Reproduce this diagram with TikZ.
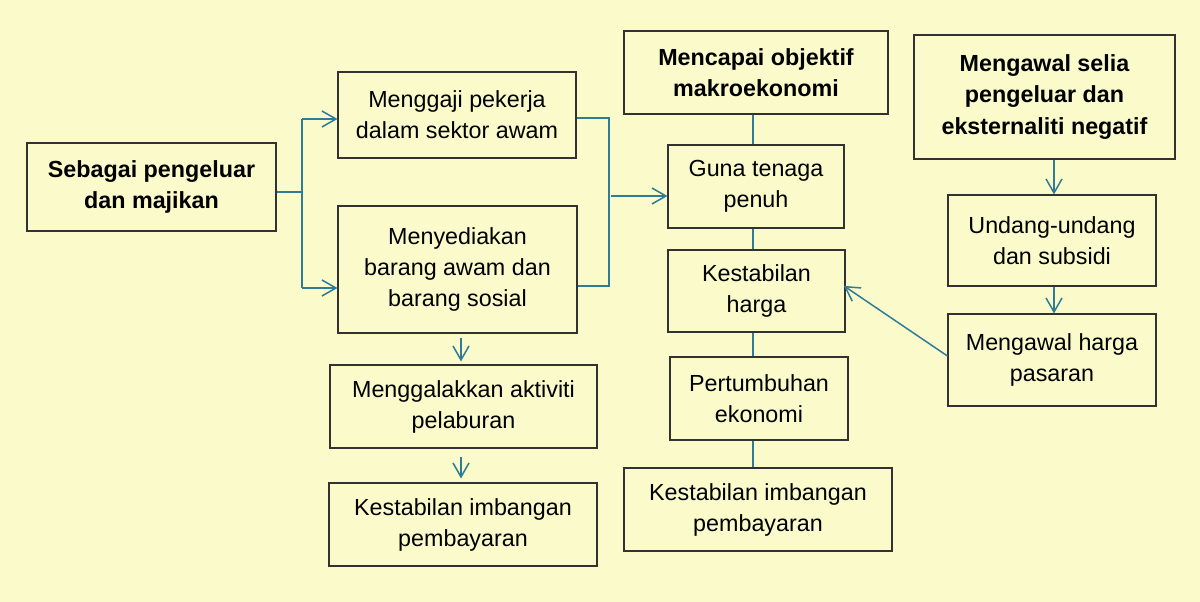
\documentclass[tikz,border=0pt]{standalone}
\usepackage{fontspec}
\setmainfont{Liberation Sans}
\usetikzlibrary{arrows.meta}
\definecolor{bgc}{RGB}{250,250,202}
\definecolor{linec}{RGB}{47,124,153}
\definecolor{boxc}{RGB}{50,50,50}
\tikzset{
  box/.style={draw=boxc, line width=1.1pt, fill=bgc, align=center, inner sep=0pt,
    font=\fontsize{23.3}{31}\selectfont},
  boldbox/.style={box, font=\fontsize{23.3}{31.5}\selectfont\bfseries},
  conn/.style={draw=linec, line width=1.5pt},
  arr/.style={conn, -{Straight Barb[length=14pt,width=16pt,line width=1.5pt]}}
}
\begin{document}
\begin{tikzpicture}[x=1pt,y=-1pt]
\fill[bgc] (0,0) rectangle (1200,602);
\useasboundingbox (0,0) rectangle (1200,602);

% left column
\node[boldbox, minimum width=249pt, minimum height=88pt] (seb) at (151.5,187) {Sebagai pengeluar\\dan majikan};
\node[box, minimum width=238pt, minimum height=86pt] (meng) at (457,115) {Menggaji pekerja\\dalam sektor awam};
\node[box, minimum width=239pt, minimum height=127pt] (meny) at (457.5,269.5) {Menyediakan\\barang awam dan\\barang sosial};
\node[box, minimum width=267pt, minimum height=83pt] (gal) at (463.5,406.5) {Menggalakkan aktiviti\\pelaburan};
\node[box, minimum width=268pt, minimum height=83pt] (kbl) at (463,524.5) {Kestabilan imbangan\\pembayaran};

% centre column
\node[boldbox, minimum width=264pt, minimum height=83pt] (capai) at (756,72.5) {Mencapai objektif\\makroekonomi};
\node[box, minimum width=176pt, minimum height=83pt] (guna) at (756,186.5) {Guna tenaga\\penuh};
\node[box, minimum width=177pt, minimum height=82pt] (harga) at (756.5,291) {Kestabilan\\harga};
\node[box, minimum width=178pt, minimum height=83pt] (tumbuh) at (759,398.5) {Pertumbuhan\\ekonomi};
\node[box, minimum width=268pt, minimum height=83pt] (kbc) at (758,509.5) {Kestabilan imbangan\\pembayaran};

% right column
\node[boldbox, minimum width=261pt, minimum height=124pt] (selia) at (1044.5,97) {Mengawal selia\\pengeluar dan\\eksternaliti negatif};
\node[box, minimum width=208pt, minimum height=91pt] (undang) at (1052,240.5) {Undang-undang\\dan subsidi};
\node[box, minimum width=208pt, minimum height=92pt] (pasar) at (1052,360) {Mengawal harga\\pasaran};

% coordinates
\coordinate (bm) at (302,192);
\coordinate (b1) at (302,119);
\coordinate (b2) at (302,288);
\coordinate (r1) at (609,118);
\coordinate (r2) at (609,286);
\coordinate (rm) at (611,196);
\coordinate (vx) at (753,0);
\coordinate (ax) at (461,0);
\coordinate (rx) at (1054,0);
\coordinate (py) at (0,356);
\coordinate (hy) at (0,287);

% left connectors
\draw[conn] (seb.east |- bm) -- (bm);
\draw[conn] (b1) -- (b2);
\draw[arr] (b1) -- (b1 -| meng.west);
\draw[arr] (b2) -- (b2 -| meny.west);
\draw[conn] (r1 -| meng.east) -- (r1) -- (r2) -- (r2 -| meny.east);
\draw[arr] (rm) -- (rm -| guna.west);
\draw[arr, shorten <=4pt, shorten >=3pt] (meny.south -| ax) -- (gal.north -| ax);
\draw[arr, shorten <=8pt, shorten >=4pt] (gal.south -| ax) -- (kbl.north -| ax);

% centre connectors
\draw[conn] (capai.south -| vx) -- (guna.north -| vx);
\draw[conn] (guna.south -| vx) -- (harga.north -| vx);
\draw[conn] (harga.south -| vx) -- (tumbuh.north -| vx);
\draw[conn] (tumbuh.south -| vx) -- (kbc.north -| vx);

% right connectors
\draw[arr] (selia.south -| rx) -- (undang.north -| rx);
\draw[arr] (undang.south -| rx) -- (pasar.north -| rx);
\draw[arr, shorten >=-2pt] (pasar.west |- py) -- (harga.east |- hy);
\end{tikzpicture}
\end{document}
